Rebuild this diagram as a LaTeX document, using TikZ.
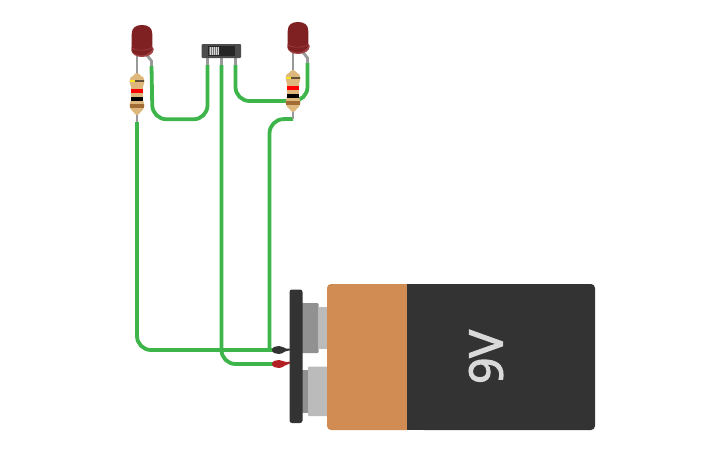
\documentclass[tikz,border=0pt]{standalone}
\usepackage{fontspec}
\newfontfamily\labelfont[FakeBold=3]{Open Sans}
\definecolor{wire}{HTML}{3DB54A}
\definecolor{ledred}{HTML}{7F2022}
\definecolor{ledrim}{HTML}{A04345}
\definecolor{lead}{HTML}{999999}
\definecolor{tan}{HTML}{DDB77C}
\definecolor{dark}{HTML}{333333}
\definecolor{orangebody}{HTML}{D08C53}
\definecolor{midgray}{HTML}{919191}
\definecolor{lightgray}{HTML}{BBBBBB}
\definecolor{clipred}{HTML}{B32024}
\tikzset{
  wirepath/.style={draw=wire,line width=3.8pt,rounded corners=14pt,line cap=butt},
  leadpath/.style={draw=lead,line width=2.8pt},
  pics/ledpic/.style={code={
    \fill[ledrim] (-10.3,22) -- (10.3,22) -- (11.8,24) .. controls (11.8,29) and (6,32) .. (0,32) .. controls (-6,32) and (-10.3,29) .. (-10.3,26) -- cycle;
    \fill[ledred] (-10.3,26) -- (-10.3,9) .. controls (-10.3,2.5) and (-6,0) .. (0,0) .. controls (6,0) and (10.3,2.5) .. (10.3,9) -- (10.3,24) .. controls (9,27) and (4,30.5) .. (0,30.5) .. controls (-5,30.5) and (-9,28) .. (-10.3,26) -- cycle;
    \draw[ledrim,line width=0.6pt] (-10.3,23) .. controls (-5,26) and (5,26) .. (10.3,22.5);
  }},
  pics/resistorpic/.style={code={
    \fill[tan] (0,0) .. controls (1.5,0) and (2.5,1.5) .. (3.5,2.5) .. controls (6,3.5) and (7.5,5) .. (7.5,8)
      .. controls (7.5,10.5) and (6.3,12) .. (5.8,14) -- (5.8,27) .. controls (6.3,29) and (7.5,30.5) .. (7.5,33)
      .. controls (7.5,36) and (5,37.5) .. (3.5,39) .. controls (2.5,40.5) and (1.5,42) .. (0,42)
      .. controls (-1.5,42) and (-2.5,40.5) .. (-3.5,39) .. controls (-5,37.5) and (-7.5,36) .. (-7.5,33)
      .. controls (-7.5,30.5) and (-6.3,29) .. (-5.8,27) -- (-5.8,14) .. controls (-6.3,12) and (-7.5,10.5) .. (-7.5,8)
      .. controls (-7.5,5) and (-6,3.5) .. (-3.5,2.5) .. controls (-2.5,1.5) and (-1.5,0) .. (0,0) -- cycle;
    \fill[black!55!tan] (-3,7.4) rectangle (7.3,8.5);
    \fill[yellow!75!tan] (-7.3,7.2) rectangle (-2.5,8.6);
    \fill[red] (-5.8,16.3) rectangle (5.8,20.3);
    \fill[black] (-5.8,23.7) rectangle (5.8,27.7);
    \fill[brown!85!black] (-7.3,31) rectangle (7.3,35);
  }}
}
\begin{document}
\begin{tikzpicture}[x=1pt,y=-1pt]
\useasboundingbox (0,0) rectangle (725,453);
% named connection points
\coordinate (ledAright) at (151.5,66);
\coordinate (resAbottom) at (137,122);
\coordinate (resBbottom) at (293,119);
\coordinate (ledBright) at (307.5,63);
\coordinate (swA) at (207.5,65);
\coordinate (swB) at (221.5,65);
\coordinate (swC) at (235.5,65);
\coordinate (clipBlack) at (274,350);
\coordinate (clipRed) at (274,364);
% wires
\path[wirepath] (ledAright) -- (152.5,119.3) -- (207.5,119.3) -- (swA);
\path[wirepath] (swB) -- (221.5,364) -- (clipRed);
\path[wirepath] (swC) -- (235.5,101) -- (307.5,101) -- (ledBright);
\path[wirepath] (resBbottom) -- (269.5,119.3) -- (269.5,350);
\path[wirepath] (resAbottom) -- (137,350) -- (clipBlack);
% led leads
\draw[leadpath] (137,50) -- (137,78);
\draw[leadpath] (146,54) -- (151.5,61) -- (ledAright);
\draw[leadpath] (293,47) -- (293,75);
\draw[leadpath] (302,51) -- (307.5,58) -- (ledBright);
\draw[leadpath] (137,110) -- (resAbottom);
\draw[leadpath] (293,107) -- (resBbottom);
% leds and resistors
\pic at (142,25) {ledpic};
\pic at (298,22) {ledpic};
\pic at (137,73) {resistorpic};
\pic at (293,70) {resistorpic};
% switch
\foreach \p in {swA,swB,swC} \draw[leadpath] (\p) -- ++(0,-8);
\fill[rounded corners=1pt,fill=black!70] (201.5,44) rectangle (241,58);
\fill[fill=black!85] (208,46) rectangle (235,56);
\fill[fill=black!55] (209,47) rectangle (219,55);
\foreach \x in {209.5,211.5,213.5,215.5,217.5} \fill[black!15] (\x,47) rectangle ++(1,8);
% clips
\fill[dark] (272,350) .. controls (272,347) and (276,346) .. (279,346) .. controls (282,346) and (284,348) .. (286,348.5) -- (291,348.5) -- (291,350) -- (285,351.5) .. controls (283,353) and (281,354) .. (279,354) .. controls (276,354) and (272,353) .. (272,350) -- cycle;
\fill[clipred] (272,364) .. controls (272,361) and (276,360) .. (279,360) .. controls (282,360) and (284,362) .. (286,362) -- (291,361.5) -- (291,363) -- (285,365.5) .. controls (283,367) and (281,368) .. (279,368) .. controls (276,368) and (272,367) .. (272,364) -- cycle;
% battery
\fill[midgray,rounded corners=1pt] (301,303) rectangle (318.5,353);
\fill[lightgray] (318,307) rectangle (328,349);
\fill[midgray] (301,370) rectangle (309,413);
\fill[lightgray,rounded corners=1pt] (308,366.5) rectangle (328,416);
\fill[dark,rounded corners=2.5pt] (289.5,289.5) rectangle (302.5,423);
\fill[orangebody,rounded corners=4pt] (327,284) -- (327,430) -- (410,430) -- (410,284) -- cycle;
\fill[dark,rounded corners=4pt] (420,284) -- (595,284) -- (595,430) -- (420,430) -- cycle;
\fill[dark] (406.5,284) rectangle (425,430);
\node[rotate=90,text=white!85!black,font=\labelfont\fontsize{46}{46}\selectfont,inner sep=0pt] (voltage) at (486,357) {9V};
\end{tikzpicture}
\end{document}
